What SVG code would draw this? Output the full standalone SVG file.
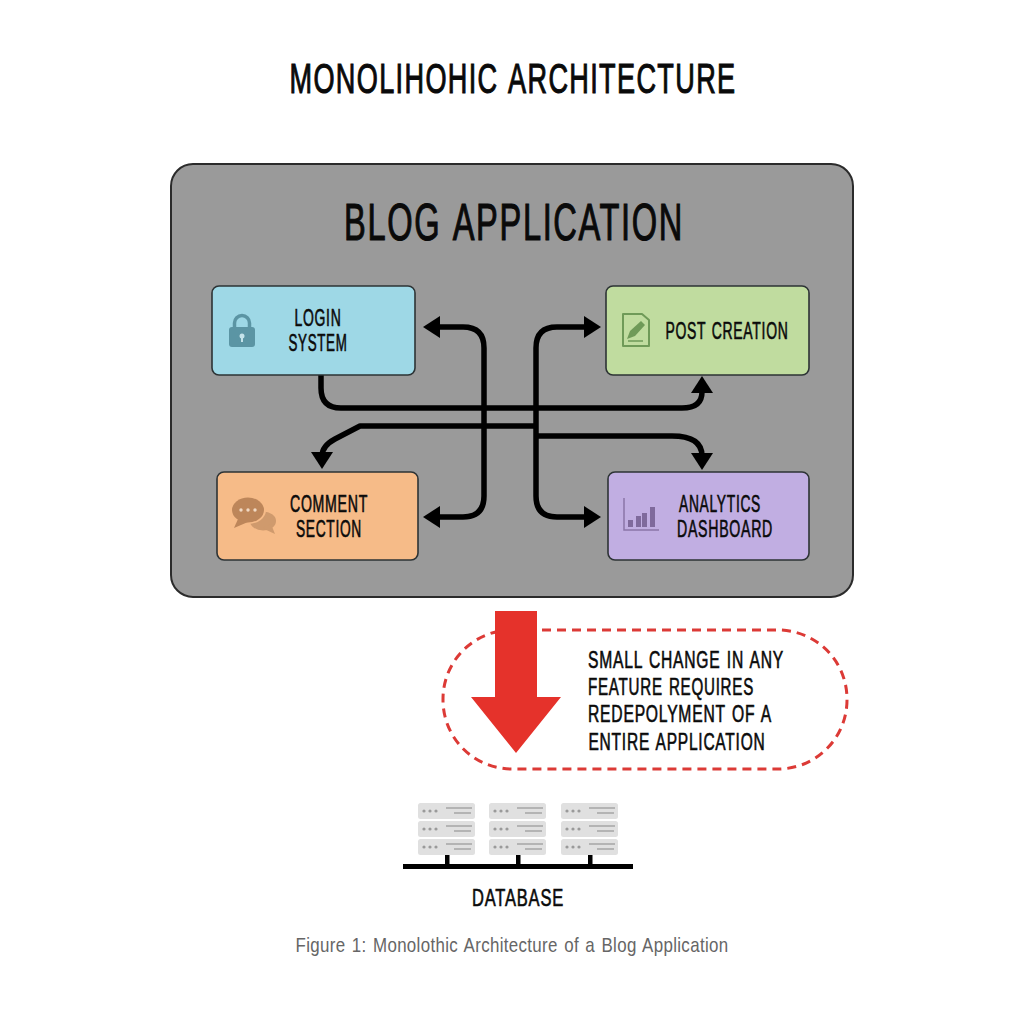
<svg xmlns="http://www.w3.org/2000/svg" width="1024" height="1024" viewBox="0 0 1024 1024">
<style>
text{font-family:"Liberation Sans",Arial,sans-serif;fill:#0a0a0a;text-anchor:middle;font-weight:400;stroke:#0a0a0a;stroke-width:.6;letter-spacing:.05em;word-spacing:.08em}
.lb{font-size:23px}
.hd{stroke-width:1.1}
.node{stroke:#2d3335;stroke-width:1.6}
.c{fill:none;stroke:#000;stroke-width:5.5;stroke-linejoin:round}
.srv{fill:#e0e0e0}
.dot{fill:#9a9a9a}
.ln{stroke:#a5a5a5;stroke-width:1.6;fill:none}
</style>
<defs>
<marker id="ah" markerUnits="userSpaceOnUse" markerWidth="24" markerHeight="24" refX="12" refY="11" orient="auto-start-reverse"><path d="M0 0L17 11L0 22Z" fill="#000"/></marker>
<g id="s3"><g id="s"><rect class="srv" x="0" y="0" width="57" height="16" rx="2.5"/><circle class="dot" cx="6" cy="8" r="1.6"/><circle class="dot" cx="12" cy="8" r="1.6"/><circle class="dot" cx="18" cy="8" r="1.6"/><path class="ln" d="M28 5H54M36 10H53"/></g><use href="#s" y="18"/><use href="#s" y="36"/><rect x="27" y="52" width="4.5" height="12" fill="#000"/></g>
</defs>
<rect width="1024" height="1024" fill="#fff"/>
<text id="title" class="hd" x="513" y="93" font-size="43" textLength="447" lengthAdjust="spacingAndGlyphs">MONOLIHOHIC ARCHITECTURE</text>
<g id="app">
<rect x="171" y="164" width="682" height="433" rx="22" fill="#9a9a9a" stroke="#2b2b2b" stroke-width="2"/>
<text class="hd" x="514" y="240" font-size="51" textLength="340" lengthAdjust="spacingAndGlyphs">BLOG APPLICATION</text>
</g>
<g id="connectors">
<path class="c" marker-start="url(#ah)" marker-end="url(#ah)" d="M428 327H463Q484 327 484 348V496Q484 517 463 517H428"/>
<path class="c" marker-start="url(#ah)" marker-end="url(#ah)" d="M596 327H557Q536 327 536 348V496Q536 517 557 517H596"/>
<path class="c" marker-end="url(#ah)" d="M321 375V388Q321 408 341 408H682Q702 408 702 392V381"/>
<path class="c" marker-end="url(#ah)" d="M536 426H360L335 439Q322 446 322 456V464"/>
<path class="c" marker-end="url(#ah)" d="M536 436H672Q702 436 702 456V465"/>
</g>
<g id="login">
<rect class="node" x="212" y="286" width="203" height="89" rx="7" fill="#9ed8e6"/>
<g fill="#5b95a4"><rect x="229" y="327" width="26" height="20" rx="3"/><path d="M234.500 328V323a7.500 7.500 0 0 1 15 0V328" fill="none" stroke="#5b95a4" stroke-width="3.500"/></g><circle cx="242" cy="336" r="2.500" fill="#c4e3ea"/><rect x="241" y="337" width="2" height="5" fill="#c4e3ea"/>
<text class="lb" x="318" y="326" textLength="47" lengthAdjust="spacingAndGlyphs">LOGIN</text>
<text class="lb" x="318" y="351" textLength="59" lengthAdjust="spacingAndGlyphs">SYSTEM</text>
</g>
<g id="post">
<rect class="node" x="606" y="286" width="203" height="89" rx="7" fill="#c0dc9f"/>
<path d="M623 314H642L649 320V346H623Z" fill="none" stroke="#6f9a58" stroke-width="2" stroke-linejoin="round"/>
<path d="M627 339L630 331L641 321L645 325L635 336Z" fill="#6f9a58"/><path d="M628 341H643" stroke="#6f9a58" stroke-width="1.500"/>
<text class="lb" x="727" y="339" textLength="123" lengthAdjust="spacingAndGlyphs">POST CREATION</text>
</g>
<g id="comment">
<rect class="node" x="217" y="472" width="201" height="88" rx="7" fill="#f6bb88"/>
<ellipse cx="263" cy="521" rx="13" ry="9.500" fill="#cf9a6d"/><path d="M262 528L275 534L271 524Z" fill="#cf9a6d"/>
<ellipse cx="248" cy="510" rx="18" ry="14" fill="#f6bb88"/>
<ellipse cx="248" cy="510" rx="16" ry="12.500" fill="#bd865a"/>
<path d="M238 519L234 528L248 522Z" fill="#bd865a"/>
<circle cx="241" cy="510" r="1.700" fill="#f1d9c3"/><circle cx="248" cy="510" r="1.700" fill="#f1d9c3"/><circle cx="255" cy="510" r="1.700" fill="#f1d9c3"/>
<text class="lb" x="329" y="512" textLength="78" lengthAdjust="spacingAndGlyphs">COMMENT</text>
<text class="lb" x="329" y="537" textLength="66" lengthAdjust="spacingAndGlyphs">SECTION</text>
</g>
<g id="analytics">
<rect class="node" x="608" y="472" width="201" height="88" rx="7" fill="#c1aee2"/>
<path d="M624 498V530H659" fill="none" stroke="#8a75a8" stroke-width="1.500"/>
<g fill="#7f6a9c"><rect x="628" y="520" width="5" height="7"/><rect x="636" y="516" width="5" height="11"/><rect x="642" y="513" width="5" height="14"/><rect x="650" y="507" width="5" height="20"/></g>
<text class="lb" x="720" y="512" textLength="82" lengthAdjust="spacingAndGlyphs">ANALYTICS</text>
<text class="lb" x="725" y="537" textLength="96" lengthAdjust="spacingAndGlyphs">DASHBOARD</text>
</g>
<g id="note">
<rect x="443" y="630" width="404" height="139" rx="69" fill="none" stroke="#dc3a36" stroke-width="3" stroke-dasharray="9 6"/>
<text class="lb" x="686" y="668" textLength="196" lengthAdjust="spacingAndGlyphs">SMALL CHANGE IN ANY</text>
<text class="lb" x="671" y="695" textLength="166" lengthAdjust="spacingAndGlyphs">FEATURE REQUIRES</text>
<text class="lb" x="680" y="722" textLength="184" lengthAdjust="spacingAndGlyphs">REDEPOLYMENT OF A</text>
<text class="lb" x="677" y="750" textLength="177" lengthAdjust="spacingAndGlyphs">ENTIRE APPLICATION</text>
</g>
<path id="red-arrow" d="M495 611H537V697H561L516 753L471 697H495Z" fill="#e5322b"/>
<g id="database">
<use href="#s3" x="418" y="803"/><use href="#s3" x="489" y="803"/><use href="#s3" x="561" y="803"/>
<rect x="403" y="864" width="230" height="5" fill="#000"/>
<text class="lb" x="518" y="906" textLength="92" lengthAdjust="spacingAndGlyphs">DATABASE</text>
</g>
<text id="caption" x="512" y="952" font-size="21" textLength="433" lengthAdjust="spacingAndGlyphs" style="fill:#666;stroke:none;letter-spacing:.02em">Figure 1: Monolothic Architecture of a Blog Application</text>
</svg>
